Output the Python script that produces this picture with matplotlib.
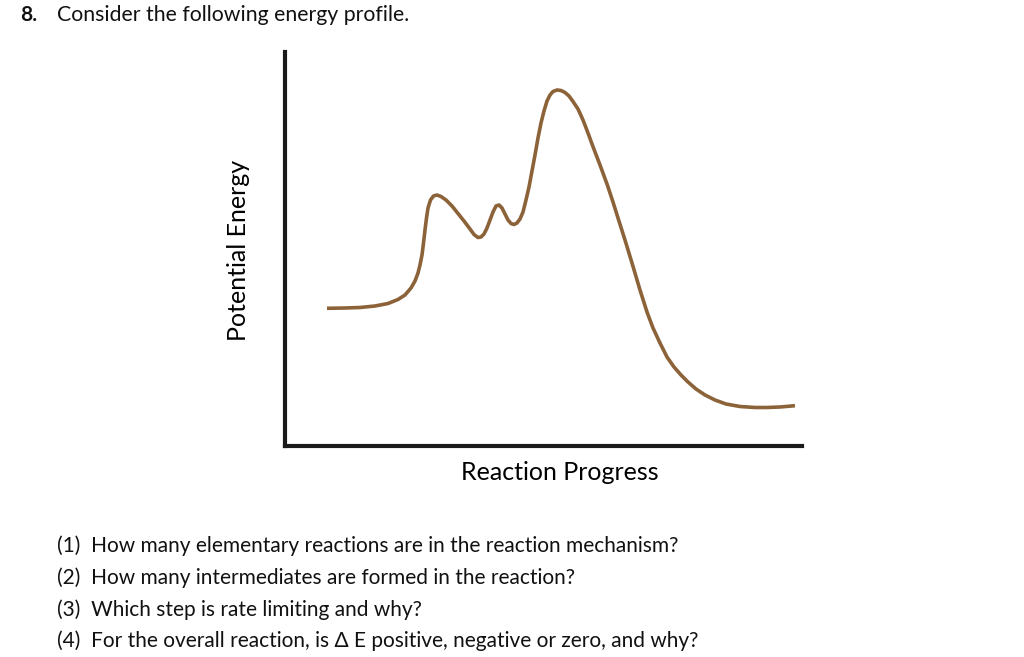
import matplotlib.pyplot as plt

# reaction coordinate (arbitrary units) and potential energy
progress = [42, 60, 75, 90, 103, 113, 120, 126, 130, 133,
            135, 137, 138.5, 140, 141.5, 143, 145.5, 148.5, 152, 156,
            161, 167, 173, 179, 185, 189, 193, 196, 199, 202,
            205, 208, 211, 214, 217, 220, 223, 226, 229, 232,
            235, 238, 241, 244, 247, 250, 253, 256, 259, 262,
            265, 268, 272, 276, 280, 284, 288, 293, 298, 303,
            308, 315, 322, 328, 333, 340, 347, 355, 362, 368,
            375, 382, 389, 396, 403, 411, 420, 430, 441, 455,
            470, 482, 495, 510]
energy = [137.7, 138, 138.5, 140, 142.5, 146.5, 151, 158, 165, 173,
          181, 191, 203, 216, 228, 238, 246, 250, 251, 249.5,
          246, 240, 232.5, 225, 217, 211.5, 208.5, 209, 212, 218,
          226, 234, 240, 241, 238, 232, 226, 222.5, 221.5, 223,
          227, 234, 246, 259, 275, 291, 308, 323, 335, 345,
          351, 354.5, 356, 355.5, 353.5, 350, 344.5, 337, 326, 313,
          299.3, 281, 262, 244, 228, 206, 183, 156, 134, 118,
          103, 89, 79, 71, 64, 57, 51, 46, 42, 39.5,
          38.5, 38.5, 39, 40.3]

questions = [
    "(1)  How many elementary reactions are in the reaction mechanism?",
    "(2)  How many intermediates are formed in the reaction?",
    "(3)  Which step is rate limiting and why?",
    "(4)  For the overall reaction, is \u0394 E positive, negative or zero, and why?",
]

plt.rcParams['font.family'] = ['Lato', 'DejaVu Sans']

W, H = 1024, 657
fig = plt.figure(figsize=(W / 100, H / 100), dpi=100)

ax = fig.add_axes([285 / W, 1 - 446 / H, (802 - 285) / W, (446 - 52) / H])
ax.plot(progress, energy, color='#8C6239', lw=2.6,
        solid_joinstyle='round', solid_capstyle='butt')
ax.set_xlim(0, 517)
ax.set_ylim(0, 394)
ax.set_xticks([])
ax.set_yticks([])
for s in ['top', 'right']:
    ax.spines[s].set_visible(False)
for s in ['left', 'bottom']:
    ax.spines[s].set_linewidth(3)
    ax.spines[s].set_color('#1a1a1a')

fig.text(238 / W, 1 - 250 / H, "Potential Energy", rotation=90,
         ha='center', va='center', fontsize=18)
fig.text(560 / W, 1 - 472 / H, "Reaction Progress",
         ha='center', va='center', fontsize=18)

fig.text(20 / W, 1 - 15 / H, "8.", fontsize=15, fontweight='bold',
         ha='left', va='center', color='#111111')
fig.text(57 / W, 1 - 15 / H, "Consider the following energy profile.",
         fontsize=15.3, ha='left', va='center', color='#111111')

for i, q in enumerate(questions):
    fig.text(57 / W, 1 - (546 + i * 31.7) / H, q, fontsize=15,
             ha='left', va='center', color='#111111')

fig.savefig('out.png', dpi=100, facecolor='white')
